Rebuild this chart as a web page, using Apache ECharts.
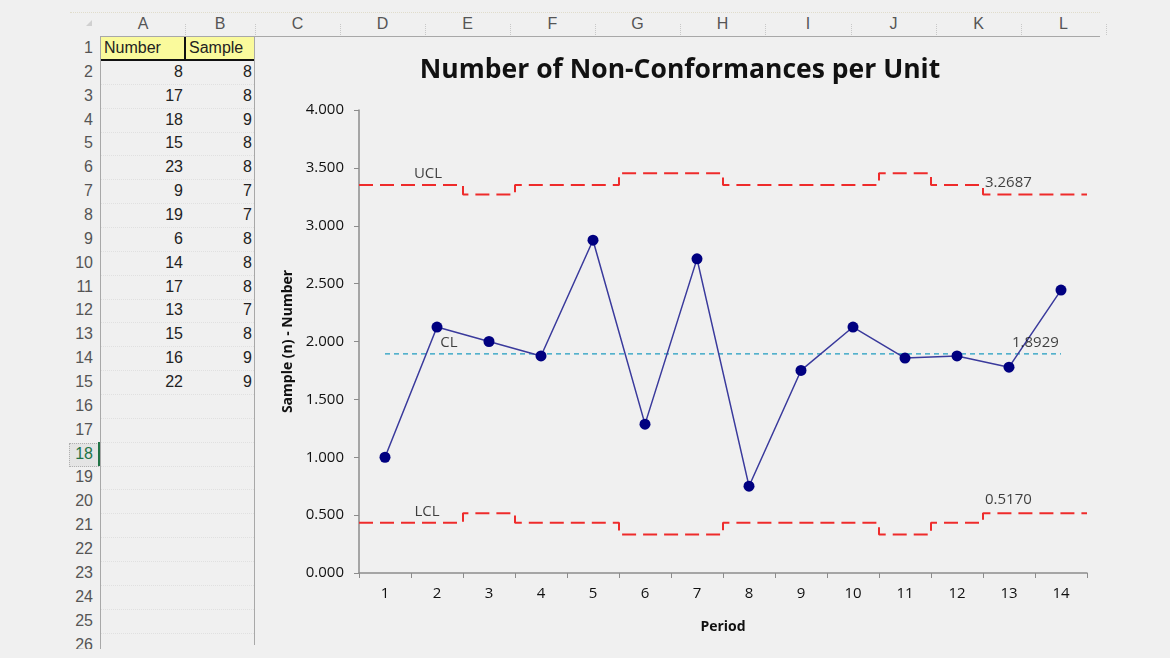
<!DOCTYPE html>
<html>
<head>
<meta charset="utf-8">
<script src="https://cdn.jsdelivr.net/npm/echarts@6/dist/echarts.min.js"></script>
<style>
  body { margin: 0; background: #f0f0f0; }
  #sheet { position: absolute; left: 0; top: 0; width: 1170px; height: 649px; overflow: hidden;
           font-family: "Liberation Sans", Arial, sans-serif; color: #333; }
  #sheet div { position: absolute; }
  #main { position: absolute; left: 0; top: 0; width: 1170px; height: 658px; }
</style>
</head>
<body>
<div id="sheet"></div>
<div id="main"></div>
<script>
  // worksheet columns A, B
  const numberCol = [8, 17, 18, 15, 23, 9, 19, 6, 14, 17, 13, 15, 16, 22];
  const sampleCol = [8, 8, 9, 8, 8, 7, 7, 8, 8, 8, 7, 8, 9, 9];
  const colLetters = ['A', 'B', 'C', 'D', 'E', 'F', 'G', 'H', 'I', 'J', 'K', 'L'];

  // chart data
  const periods = ['1', '2', '3', '4', '5', '6', '7', '8', '9', '10', '11', '12', '13', '14'];
  const uValues = [1.000, 2.125, 2.000, 1.875, 2.875, 1.286, 2.714, 0.750, 1.750, 2.125, 1.857, 1.875, 1.778, 2.444];
  const uclValues = [3.352, 3.352, 3.269, 3.352, 3.352, 3.453, 3.453, 3.352, 3.352, 3.352, 3.453, 3.352, 3.269, 3.269];
  const lclValues = [0.434, 0.434, 0.517, 0.434, 0.434, 0.333, 0.333, 0.434, 0.434, 0.434, 0.333, 0.434, 0.517, 0.517];
  const clValue = 1.8929;

  // ---- spreadsheet backdrop ----
  const sheet = document.getElementById('sheet');
  function box(css, text) {
    const d = document.createElement('div');
    d.style.cssText = css;
    if (text !== undefined) d.textContent = text;
    sheet.appendChild(d);
    return d;
  }
  const rowH = 23.86, row1 = 48;
  const colEdges = [101, 185, 255, 340, 425, 510, 595, 680, 765, 851, 936, 1021, 1106];

  box('left:70px;top:12px;width:1030px;height:0;border-top:1px dotted #e0dccb;');
  box('left:100px;top:36px;width:1000px;height:0;border-top:1px solid #a8a8a8;');
  box('left:86px;top:20px;width:0;height:0;border-left:6px solid transparent;border-bottom:6px solid #d0d0d0;');
  colLetters.forEach((c, i) => {
    const x0 = colEdges[i], x1 = colEdges[i + 1];
    box('left:' + x0 + 'px;top:15px;width:' + (x1 - x0) + 'px;text-align:center;font-size:16px;color:#555;', c);
    box('left:' + x1 + 'px;top:24px;width:0;height:11px;border-left:1px dotted #c8c8c8;');
  });
  for (let r = 1; r <= 26; r++) {
    const cy = row1 + rowH * (r - 1);
    const lab = box('left:60px;top:' + (cy - 10) + 'px;width:33px;text-align:right;font-size:16px;color:#555;line-height:20px;', String(r));
    if (r === 18) {
      lab.style.color = '#217346';
      box('left:69px;top:' + (cy - 11) + 'px;width:30px;height:22px;border:1px dotted #b0b0b0;background:#e4e4e4;');
      sheet.appendChild(lab);
      box('left:98px;top:' + (cy - 12) + 'px;width:3px;height:24px;background:#217346;');
    }
    if (r >= 2) {
      box('left:101px;top:' + (cy + rowH / 2) + 'px;width:153px;height:0;border-top:1px dotted #e0e0e0;');
    }
  }
  box('left:100px;top:37px;width:0;height:612px;border-left:1px solid #a8a8a8;');
  box('left:254px;top:37px;width:0;height:608px;border-left:1px solid #a8a8a8;');
  // header cells
  box('left:101px;top:37px;width:84px;height:22px;background:#fafa9c;font-size:16px;line-height:22px;padding-left:3px;box-sizing:border-box;color:#222;', 'Number');
  box('left:186px;top:37px;width:68px;height:22px;background:#fafa9c;font-size:16px;line-height:22px;padding-left:3px;box-sizing:border-box;color:#222;', 'Sample');
  box('left:184px;top:37px;width:2px;height:23px;background:#111;');
  box('left:101px;top:59px;width:153px;height:2px;background:#111;');
  numberCol.forEach((v, i) => {
    const cy = row1 + rowH * (i + 1);
    box('left:101px;top:' + (cy - 10) + 'px;width:82px;text-align:right;font-size:16px;line-height:20px;color:#222;', String(v));
    box('left:186px;top:' + (cy - 10) + 'px;width:66px;text-align:right;font-size:16px;line-height:20px;color:#222;', String(sampleCol[i]));
  });

  // ---- chart ----
  function stepData(vals) {
    const out = [];
    vals.forEach((v, i) => { out.push([i + 0.5, v]); out.push([i + 1.5, v]); });
    return out;
  }
  const font = '"Open Sans", sans-serif';
  const txt = { fontFamily: font, fontSize: 15, color: '#111' };

  const myChart = echarts.init(document.getElementById('main'));
  const option = {
    backgroundColor: 'transparent',
    animation: false,
    graphic: [{
      type: 'text', x: 680, y: 70,
      style: { text: 'Number of Non-Conformances per Unit', font: 'bold 26.5px "Open Sans", sans-serif',
               fill: '#111', textAlign: 'center', textVerticalAlign: 'middle' }
    }],
    grid: { left: 359, right: 83, top: 110, bottom: 85 },
    xAxis: [{
      type: 'category', data: periods, boundaryGap: true,
      name: 'Period', nameLocation: 'middle', nameGap: 47,
      nameTextStyle: { fontFamily: font, fontSize: 14, fontWeight: 'bold', color: '#111' },
      axisLine: { lineStyle: { color: '#8c8c8c', width: 1.5 } },
      axisTick: { show: true, length: 5, lineStyle: { color: '#8c8c8c' } },
      axisLabel: { fontFamily: font, fontSize: 15, color: '#111', margin: 13 },
      splitLine: { show: false }
    }, {
      type: 'value', min: 0.5, max: 14.5, show: false
    }],
    yAxis: {
      type: 'value', min: 0, max: 4, interval: 0.5,
      name: 'Sample (n) - Number', nameLocation: 'middle', nameGap: 64, nameRotate: 90,
      nameTextStyle: { fontFamily: font, fontSize: 14, fontWeight: 'bold', color: '#111' },
      axisLine: { show: true, lineStyle: { color: '#8c8c8c', width: 1.5 } },
      axisTick: { show: true, length: 5, lineStyle: { color: '#8c8c8c' } },
      axisLabel: { fontFamily: font, fontSize: 15, color: '#111', margin: 15,
                   formatter: v => v.toFixed(3) },
      splitLine: { show: false }
    },
    series: [
      {
        name: 'UCL', type: 'line', xAxisIndex: 1, data: stepData(uclValues),
        symbol: 'none', lineStyle: { color: '#ee2b2b', width: 2, type: [14, 7] }, z: 2
      },
      {
        name: 'LCL', type: 'line', xAxisIndex: 1, data: stepData(lclValues),
        symbol: 'none', lineStyle: { color: '#ee2b2b', width: 2, type: [14, 7] }, z: 2
      },
      {
        name: 'CL', type: 'line', xAxisIndex: 0, data: periods.map(() => clValue),
        symbol: 'none', lineStyle: { color: '#1f9cc0', width: 1.2, type: [5, 4] }, z: 2
      },
      {
        name: 'u', type: 'line', xAxisIndex: 0, data: uValues,
        symbol: 'circle', symbolSize: 11,
        itemStyle: { color: '#000080' },
        lineStyle: { color: '#3a3a9c', width: 1.5 }, z: 3
      },
      {
        name: 'labels', type: 'scatter', xAxisIndex: 1, symbolSize: 0, z: 4,
        label: { show: true, position: 'top', distance: 4, ...txt },
        emphasis: { disabled: true },
        data: [
          { value: [2, uclValues[1]], label: { formatter: 'UCL', offset: [-9, 0] } },
          { value: [2, clValue], label: { formatter: 'CL', offset: [12, 0] } },
          { value: [2, lclValues[1]], label: { formatter: 'LCL', offset: [-10, 0] } },
          { value: [12.5, uclValues[13]], label: { formatter: '3.2687', align: 'left', offset: [2, 0] } },
          { value: [13, clValue], label: { formatter: '1.8929', align: 'left', offset: [3, 0] } },
          { value: [12.5, lclValues[13]], label: { formatter: '0.5170', align: 'left', offset: [2, -2] } }
        ]
      }
    ]
  };
  myChart.setOption(option);
</script>
</body>
</html>
